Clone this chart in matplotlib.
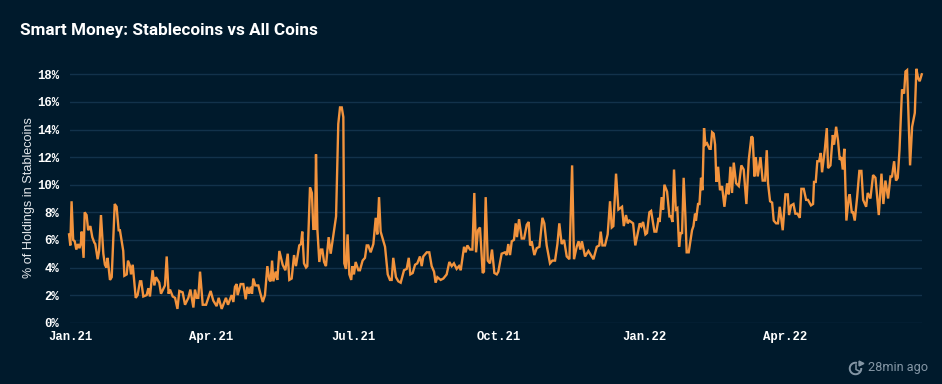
import matplotlib
matplotlib.use('Agg')
import matplotlib.pyplot as plt
from matplotlib.patches import Arc

# day since Jan.21 and % of holdings
days = [-0.6, 0.2, 1, 2, 3, 4, 5, 6, 6.9, 7.4, 8.6, 9.3, 10.5, 11.5, 12.9, 14.1, 15.4, 16, 17.5, 18.4, 19.6,
        21.1, 22.1, 23, 23.8, 25.3, 26.4, 28.3, 29.5, 30.8, 31.6, 33.7, 34.4, 35.9, 36.7, 38, 38.6, 39.7,
        41.6, 42.8, 44.3, 45.1, 46.4, 48.5, 49.6, 50.6, 52.3, 53.4, 54.4, 56.5, 57.6, 60.1, 61.2, 62.4, 63.3,
        65, 66.5, 68, 69.2, 71.3, 72.8, 74.9, 76.2, 78.1, 79.1, 80.2, 81.2, 82.3, 84, 86.1, 89, 90.7, 92.8,
        94.1, 96, 98.7, 100, 102.3, 103.4, 104.4, 105.5, 106.1, 108, 109.7, 111.2, 112.2, 113.3, 114.4, 115.2,
        116, 117.3, 119.2, 120.3, 122, 123.4, 124.9, 126.2, 127, 127.9, 128.7, 130.2, 131.2, 132.5, 134.6, 136.3,
        137.8, 138.8, 140.3, 141.8, 143, 145.1, 146.2, 147, 148.1, 149.4, 150.2, 151.9, 153.1, 154, 155.1, 155.7,
        156.6, 157.8, 158.9, 159.7, 160.8, 162, 163.7, 165, 168.4, 169.8, 170.9, 172, 173, 173.6, 174.7, 175.7,
        176.8, 178, 178.7, 179.7, 180.8, 182.5, 183.5, 185.2, 186.7, 187.8, 188.8, 190.3, 192, 193.5, 194.5, 195.6,
        196.6, 199.4, 201.1, 202.5, 203.6, 204.6, 206.3, 207.8, 209.3, 211.4, 213.1, 214.4, 215.4, 216.9, 218.4, 219.8,
        221.5, 222.6, 223.6, 225.8, 227.4, 228.9, 230.4, 231.4, 232.5, 234.6, 236.3, 238.4, 240.1, 241.6, 243, 244.7,
        246.2, 247.3, 249.4, 250.4, 251.5, 253.2, 254.7, 255.9, 257, 258.2, 259.5, 261.2, 262, 263.1, 264.4, 265.8,
        267.1, 268.6, 270.1, 271.1, 273.2, 275.3, 276.4, 277.4, 278.5, 279.6, 281, 282.1, 282.9, 284.2, 285.9, 287.4,
        289.1, 290.3, 291.2, 292.2, 293.9, 295.4, 297.1, 299, 300.2, 301.7, 303.8, 305.3, 307, 308.5, 309.7, 311.2,
        312.7, 314.4, 316.1, 317.8, 319, 320.7, 321.9, 323, 324, 326, 328.1, 331.3, 333.4, 335, 335.9, 337, 338.6,
        340.3, 341.8, 342.9, 343.9, 345.6, 347.1, 349.4, 350.5, 351.9, 353, 354, 356.4, 357.8, 360.6, 361.6, 362.7,
        364.2, 365.2, 366.7, 367.8, 369.9, 371.1, 372.6, 373.2, 374.5, 375.4, 376.2, 377.9, 379.4, 380.4, 381.3, 382.3,
        383.4, 384.4, 385.5, 386.5, 387.4, 388.4, 389.5, 390.3, 391.6, 393.7, 394.6, 395.6, 396.2, 397.5, 398.4, 399.4,
        400.3, 401.3, 402.2, 403.2, 404.7, 405.5, 406.4, 407.4, 408.3, 409.1, 410.2, 411.4, 412.7, 414.2, 415.9, 416.9,
        418, 419, 420.1, 421.6, 423.3, 424.9, 426.4, 428.1, 429.6, 431.3, 432.1, 433.2, 434, 435.3, 437, 438.4, 439.9,
        441, 441.8, 443.1, 444.4, 445.4, 446.9, 448.1, 449.2, 451.1, 452.8, 454.3, 455.1, 456.4, 457.9, 459.1, 460.4,
        461.9, 462.9, 464.4, 465.9, 467.1, 469, 470.3, 470.9, 472, 473, 474.1, 475.2, 476, 477.7, 479, 479.8, 481.3,
        482.8, 483.6, 484.9, 486.1, 487.2, 488.2, 489.1, 490.1, 491.4, 492.9, 493.5, 494.8, 495.6, 496.7, 498.2, 499.6,
        500.9, 502, 503.9, 504.9, 506.6, 508.3, 509.8, 511.9, 513.6, 514.8, 516.1, 517.8, 519.3, 520.3, 521.6, 522.8,
        523.9, 525, 526.6, 527.9, 528.8, 529.8, 531.7, 533, 534.7, 535.7, 536.8, 537.8, 539.1]
holdings = [6.4, 5.6, 8.8, 6.0, 5.9, 5.3, 5.7, 5.4, 5.8, 6.6, 4.7, 8.0, 7.8, 6.7, 7.0, 6.2, 5.8, 5.7, 4.6, 5.2, 7.8,
            5.0, 4.2, 4.0, 4.7, 3.1, 3.3, 8.6, 8.4, 6.7, 6.7, 5.2, 3.4, 3.5, 4.5, 4.1, 3.5, 4.2,
            1.8, 2.0, 3.0, 3.0, 1.9, 2.0, 2.5, 1.9, 3.8, 2.7, 3.3, 2.9, 2.1, 2.7, 4.8, 2.1, 2.4,
            1.9, 1.8, 1.0, 2.3, 2.2, 1.3, 1.8, 2.4, 1.1, 2.4, 1.8, 1.8, 3.7, 1.3, 1.3, 2.3, 1.6, 1.2,
            1.8, 1.0, 1.8, 1.3, 2.0, 1.5, 2.6, 2.8, 2.0, 2.8, 2.8, 1.7, 2.6, 2.1, 2.6, 2.1,
            3.2, 2.7, 2.7, 2.2, 1.5, 2.0, 4.1, 3.1, 3.0, 4.5, 3.0, 3.7, 3.1, 5.2, 4.2, 3.8,
            5.0, 3.1, 3.2, 4.9, 4.1, 5.6, 5.7, 6.6, 4.3, 4.0, 4.1, 9.8, 9.4, 6.8, 6.8, 12.2,
            6.7, 4.4, 5.3, 5.3, 4.4, 4.1, 6.2, 5.0, 7.7, 14.4, 15.6, 15.6, 14.9, 4.3, 3.9, 6.4,
            3.5, 3.1, 4.1, 3.5, 4.4, 3.8, 3.8, 4.5, 4.7, 5.6, 5.6, 5.1, 5.7, 7.6, 6.4, 9.1,
            6.6, 5.5, 3.5, 3.1, 3.1, 4.7, 3.3, 3.0, 2.9, 3.8, 3.9, 4.7, 3.5, 3.6, 4.2, 4.3,
            4.8, 4.1, 4.8, 5.1, 5.1, 4.1, 3.7, 2.9, 3.3, 3.1, 3.2, 3.5, 4.4, 4.1, 4.3, 3.9,
            4.1, 3.8, 5.5, 5.1, 5.6, 5.3, 5.3, 9.4, 5.1, 6.7, 6.9, 3.6, 3.7, 9.1, 4.5, 4.3,
            5.3, 3.6, 3.5, 3.7, 5.0, 5.1, 4.9, 5.7, 4.9, 5.9, 6.0, 7.2, 6.2, 7.5, 6.1, 6.1,
            7.1, 7.3, 5.6, 5.9, 4.9, 5.4, 5.5, 7.6, 7.2, 5.6, 4.3, 4.5, 4.5, 5.7, 7.2, 5.7,
            6.0, 4.8, 4.6, 11.4, 4.6, 5.5, 5.9, 5.3, 5.9, 4.8, 5.2, 4.6, 5.5, 5.6, 6.6, 5.6, 5.6,
            6.4, 8.8, 6.9, 7.0, 10.8, 8.2, 8.4, 7.0, 7.8, 7.2, 7.4, 7.2, 5.6, 7.2, 7.0, 7.3,
            6.4, 6.5, 8.0, 8.1, 6.6, 6.6, 7.6, 7.3, 9.1, 8.2, 10.0, 9.5, 7.7, 7.7, 7.3, 11.1,
            8.2, 8.3, 5.5, 6.5, 6.5, 10.5, 7.7, 5.1, 5.1, 6.7, 7.0, 7.9, 7.4, 8.6, 8.6, 10.5,
            9.6, 14.1, 12.9, 13.0, 12.6, 12.6, 13.8, 13.7, 12.9, 10.2, 11.3, 9.6, 9.9, 8.4, 10.1, 9.3,
            11.3, 9.4, 11.6, 10.1, 9.9, 11.4, 11.1, 8.6, 11.8, 13.5, 13.4, 10.6, 12.0, 10.6, 12.0, 10.3, 10.3,
            12.5, 10.1, 8.8, 8.7, 7.4, 7.2, 7.2, 8.4, 6.7, 9.3, 9.3, 7.8, 8.5, 8.6, 7.9, 7.9,
            7.6, 9.7, 9.7, 8.9, 8.9, 8.5, 8.6, 10.2, 10.2, 11.7, 11.7, 12.3, 10.9, 12.5, 14.1, 11.2, 11.4,
            13.6, 12.9, 14.2, 13.2, 11.8, 12.0, 11.1, 12.6, 7.4, 9.1, 9.3, 8.0, 8.0, 7.4, 9.1, 11.0,
            11.0, 8.9, 8.4, 9.4, 9.0, 10.7, 10.5, 7.8, 10.8, 8.6, 10.3, 9.0, 10.6, 10.6, 11.7, 10.3,
            10.5, 12.5, 16.9, 16.6, 18.2, 18.3, 11.4, 14.2, 15.2, 18.4, 17.7, 17.5, 18.0]
y_ticks = [0, 2, 4, 6, 8, 10, 12, 14, 16, 18]
x_ticks = [0, 89.2, 179.7, 271.5, 363.3, 452.5]
x_labels = ['Jan.21', 'Apr.21', 'Jul.21', 'Oct.21', 'Jan.22', 'Apr.22']

BG = '#001a2c'
GREY = '#8496a5'
W, H = 942, 384

fig = plt.figure(figsize=(W / 100, H / 100), dpi=100, facecolor=BG)
# axes placed so 0% sits at y=322.7 and 19% at y=60.5
ax = fig.add_axes([70 / W, 1 - 322.7 / H, 851.6 / W, 262.2 / H], facecolor=BG)
ax.plot(days, holdings, color='#f2933d', linewidth=1.7, clip_on=False, solid_joinstyle='miter', zorder=3)
ax.set_xlim(0, 539)
ax.set_ylim(0, 19)
ax.set_yticks(y_ticks)
ax.set_yticklabels([f'{v}%' for v in y_ticks])
ax.set_xticks(x_ticks)
ax.set_xticklabels(x_labels)
ax.tick_params(length=0, labelcolor='white', labelsize=8.8)
ax.tick_params(axis='y', pad=8)
ax.tick_params(axis='x', pad=6)
for lab in ax.get_xticklabels() + ax.get_yticklabels():
    lab.set_fontfamily('Liberation Mono')
    lab.set_fontweight('bold')
ax.grid(axis='y', color='#12324b', linewidth=1)
ax.set_axisbelow(True)
for s in ax.spines.values():
    s.set_visible(False)

fig.text(20 / W, 1 - 30 / H, 'Smart Money: Stablecoins vs All Coins', color='white', fontsize=12.3,
         fontweight='bold', family='Roboto', va='center', ha='left')
fig.text(29.5 / W, 1 - 198 / H, '% of Holdings in Stablecoins', color='#e4e8ec', fontsize=9.1, rotation=90,
         family='Liberation Sans', va='center', ha='center')
fig.text(868 / W, 1 - 368 / H, '28min ago', color=GREY, fontsize=9.2, family='Roboto', va='center', ha='left')

# little clock icon in the footer, in pixel coordinates
over = fig.add_axes([0, 0, 1, 1], facecolor='none')
over.set_xlim(0, W)
over.set_ylim(H, 0)
over.axis('off')
over.add_patch(Arc((855.5, 368.5), 11.5, 11.5, theta1=-5, theta2=285, color=GREY, linewidth=1.4))
over.plot([856, 856, 860], [365, 369.5, 371.5], color=GREY, linewidth=1.1)
over.plot([860.5], [362.5], marker='>', markersize=3.5, color=GREY, linestyle='none')

fig.savefig('out.png', dpi=100, facecolor=BG)
